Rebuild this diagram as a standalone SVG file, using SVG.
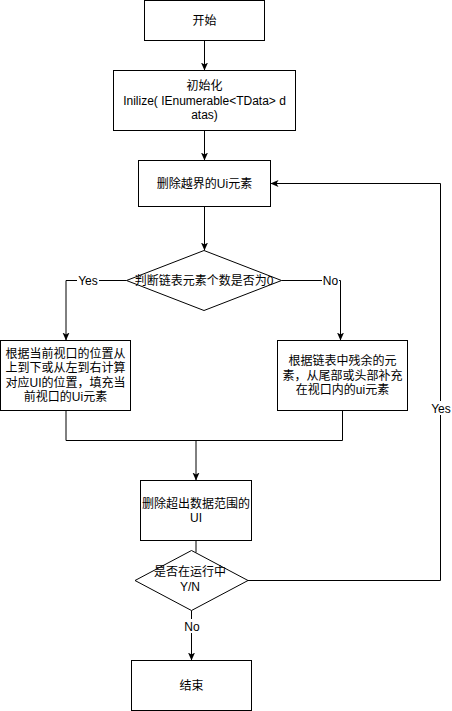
<svg xmlns="http://www.w3.org/2000/svg" width="452" height="711" viewBox="0 0 452 711">
<defs>
<style>
.n{fill:#fff;stroke:#000;stroke-width:1}
.t{font-family:"Liberation Sans","Noto Sans CJK SC",sans-serif;font-size:12px;fill:#000;text-anchor:middle}
.c{fill:none;stroke:#000;stroke-width:1}
.lb{fill:#fff}
</style>
<marker id="arr" markerWidth="8" markerHeight="8" viewBox="0 0 8 8" refX="8" refY="4" orient="auto" markerUnits="userSpaceOnUse">
<path d="M0,0.5 L8,4 L0,7.5 L2,4 z" fill="#000"/>
</marker>
</defs>
<rect width="452" height="711" fill="#fff"/>
<g id="connectors">
<path class="c" d="M204.5 40.5 V70.5" marker-end="url(#arr)"/>
<path class="c" d="M204.5 130.5 V160.5" marker-end="url(#arr)"/>
<path class="c" d="M204.5 206.5 V250.5" marker-end="url(#arr)"/>
<path class="c" d="M126.5 280.5 H66 V340.5" marker-end="url(#arr)"/>
<path class="c" d="M281.5 280.5 H340.5 V340.5" marker-end="url(#arr)"/>
<path class="c" d="M66 410.5 V440.5 H342.5 V410.5"/>
<path class="c" d="M196 440.5 V480.5" marker-end="url(#arr)"/>
<path class="c" d="M196 540.5 V552.5" stroke="#666"/>
<path class="c" d="M248 580.5 H440.5 V183.5 H270.5" marker-end="url(#arr)"/>
<path class="c" d="M191.5 610.5 V660.5" marker-end="url(#arr)"/>
<rect class="lb" x="77" y="273" width="22" height="14"/>
<text class="t" x="88" y="284.5">Yes</text>
<rect class="lb" x="322" y="273" width="17" height="14"/>
<text class="t" x="330.5" y="284.5">No</text>
<rect class="lb" x="430" y="401" width="23" height="14"/>
<text class="t" x="441" y="412.5">Yes</text>
<rect class="lb" x="183" y="619" width="17" height="14"/>
<text class="t" x="192" y="630.5">No</text>
</g>
<g id="start">
<rect class="n" x="144.5" y="0.5" width="120" height="40"/>
<text class="t" x="204.5" y="24.5">开始</text>
</g>
<g id="init">
<rect class="n" x="113.5" y="70.5" width="182" height="60"/>
<text class="t" x="204.5" y="90">初始化</text>
<text class="t" x="204.5" y="104.5">Inilize( IEnumerable&lt;TData&gt; d</text>
<text class="t" x="204.5" y="119">atas)</text>
</g>
<g id="remove-out">
<rect class="n" x="138.5" y="160.5" width="132" height="46"/>
<text class="t" x="204.5" y="187.5">删除越界的Ui元素</text>
</g>
<g id="check-count">
<polygon class="n" points="204,250.5 281.5,280.5 204,310.5 126.5,280.5"/>
<text class="t" x="204" y="284.5">判断链表元素个数是否为0</text>
</g>
<g id="fill-all">
<rect class="n" x="0.5" y="340.5" width="130" height="70"/>
<text class="t" x="65.5" y="357.5">根据当前视口的位置从</text>
<text class="t" x="65.5" y="372">上到下或从左到右计算</text>
<text class="t" x="65.5" y="386.5">对应UI的位置，填充当</text>
<text class="t" x="65.5" y="401">前视口的Ui元素</text>
</g>
<g id="fill-rest">
<rect class="n" x="277.5" y="340.5" width="130" height="70"/>
<text class="t" x="342.5" y="365">根据链表中残余的元</text>
<text class="t" x="342.5" y="379.5">素，从尾部或头部补充</text>
<text class="t" x="342.5" y="394">在视口内的ui元素</text>
</g>
<g id="remove-range">
<rect class="n" x="140.5" y="480.5" width="111" height="60"/>
<text class="t" x="196" y="507.5">删除超出数据范围的</text>
<text class="t" x="196" y="522">UI</text>
</g>
<g id="running">
<polygon class="n" points="191.5,550.5 248,580.5 191.5,610.5 135,580.5"/>
<text class="t" x="190" y="576">是否在运行中</text>
<text class="t" x="190" y="591">Y/N</text>
</g>
<g id="end">
<rect class="n" x="131.5" y="660.5" width="120" height="50"/>
<text class="t" x="191.5" y="689.5">结束</text>
</g>
</svg>
